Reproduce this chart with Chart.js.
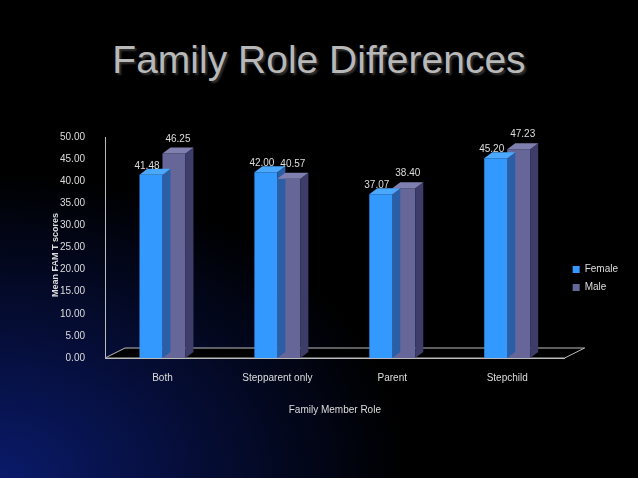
<!DOCTYPE html>
<html><head><meta charset="utf-8">
<script src="https://cdn.jsdelivr.net/npm/chart.js@4/dist/chart.umd.min.js"></script>
<style>
html,body{margin:0;padding:0;background:#000;}
#wrap{position:relative;width:638px;height:478px;overflow:hidden;
background:radial-gradient(ellipse at 0% 100%, #0a1a6a 0%, #000 45%);}
#title{position:absolute;top:38px;left:0;width:638px;text-align:center;font-family:"Liberation Sans",Arial,sans-serif;font-size:39px;color:#b8b8b8;text-shadow:2px 2px 2px #333;}
canvas{position:absolute;left:0;top:0;}
</style></head><body>
<div id="wrap"><div id="title">Family Role Differences</div><canvas id="c" width="638" height="478"></canvas></div>
<script>
const categories = ["Both","Stepparent only","Parent","Stepchild"];
const female = [41.48,42.00,37.07,45.20];
const male = [46.25,40.57,38.40,47.23];
const yTicks = [0,5,10,15,20,25,30,35,40,45,50];

const D = 10;
const bar3d = {
  id:'bar3d',
  beforeDatasetsDraw(chart){
    const ctx=chart.ctx, a=chart.chartArea;
    ctx.save();
    ctx.strokeStyle='#bbb';ctx.lineWidth=1;
    ctx.beginPath();
    ctx.moveTo(a.left,a.bottom);ctx.lineTo(a.left+D*2,a.bottom-D);ctx.lineTo(a.right+D*2,a.bottom-D);ctx.lineTo(a.right,a.bottom);ctx.closePath();
    ctx.fillStyle='#000';ctx.fill();ctx.stroke();
    ctx.restore();
  },
  afterDatasetsDraw(chart){
    const ctx=chart.ctx;
    const sides=['#2a5fa8','#3e3d6a'], tops=['#4aa8ff','#8080b0'];
    chart.data.datasets.forEach((ds,i)=>{
      chart.getDatasetMeta(i).data.forEach(b=>{
        const x1=b.x+b.width/2, x0=b.x-b.width/2, y=b.y, bot=b.base;
        ctx.fillStyle=sides[i];
        ctx.beginPath();ctx.moveTo(x1,y);ctx.lineTo(x1+D*0.8,y-D*0.6);ctx.lineTo(x1+D*0.8,bot-D*0.6);ctx.lineTo(x1,bot);ctx.closePath();ctx.fill();
        ctx.fillStyle=tops[i];
        ctx.beginPath();ctx.moveTo(x0,y);ctx.lineTo(x0+D*0.8,y-D*0.6);ctx.lineTo(x1+D*0.8,y-D*0.6);ctx.lineTo(x1,y);ctx.closePath();ctx.fill();
      });
    });
    ctx.fillStyle='#ddd';ctx.font='10px "Liberation Sans", Arial';ctx.textAlign='center';
    chart.data.datasets.forEach((ds,i)=>{
      chart.getDatasetMeta(i).data.forEach((b,j)=>{
        ctx.fillText(ds.data[j].toFixed(2),b.x+(i?4:-4),b.y-(i?12:6));
      });
    });
  }
};
new Chart(document.getElementById('c'),{
  type:'bar',
  data:{labels:categories,datasets:[
    {label:'Female',data:female,backgroundColor:'#3399ff',categoryPercentage:0.4,barPercentage:1},
    {label:'Male',data:male,backgroundColor:'#666699',categoryPercentage:0.4,barPercentage:1}
  ]},
  options:{responsive:false,animation:false,
    layout:{padding:{top:137,left:48,right:10,bottom:58}},
    plugins:{legend:{position:'right',labels:{color:'#ddd',boxWidth:7,boxHeight:7,padding:8,font:{size:10,family:'Liberation Sans'}}},tooltip:{enabled:false}},
    scales:{
      y:{min:0,max:50,afterBuildTicks:s=>{s.ticks=yTicks.map(v=>({value:v}));},
        ticks:{color:'#ddd',font:{size:10,family:'Liberation Sans'},callback:v=>v.toFixed(2),padding:12},
        grid:{display:false},border:{color:'#bbb'},
        title:{display:false}},
      x:{ticks:{color:'#ddd',font:{size:10,family:'Liberation Sans'},padding:6},grid:{display:false},border:{color:'#bbb'},
        title:{display:true,text:'Family Member Role',color:'#ddd',font:{size:10,family:'Liberation Sans'},padding:{top:14}}}
    }},
  plugins:[bar3d,{id:'ytitle',afterDraw(c){const x=c.ctx;x.save();x.translate(58,255);x.rotate(-Math.PI/2);x.fillStyle='#ddd';x.font='bold 9px "Liberation Sans"';x.textAlign='center';x.fillText('Mean FAM T scores',0,0);x.restore();}},
    {id:'legendRightGap',beforeInit(c){c.legend&&0;}}]
});
</script></body></html>
